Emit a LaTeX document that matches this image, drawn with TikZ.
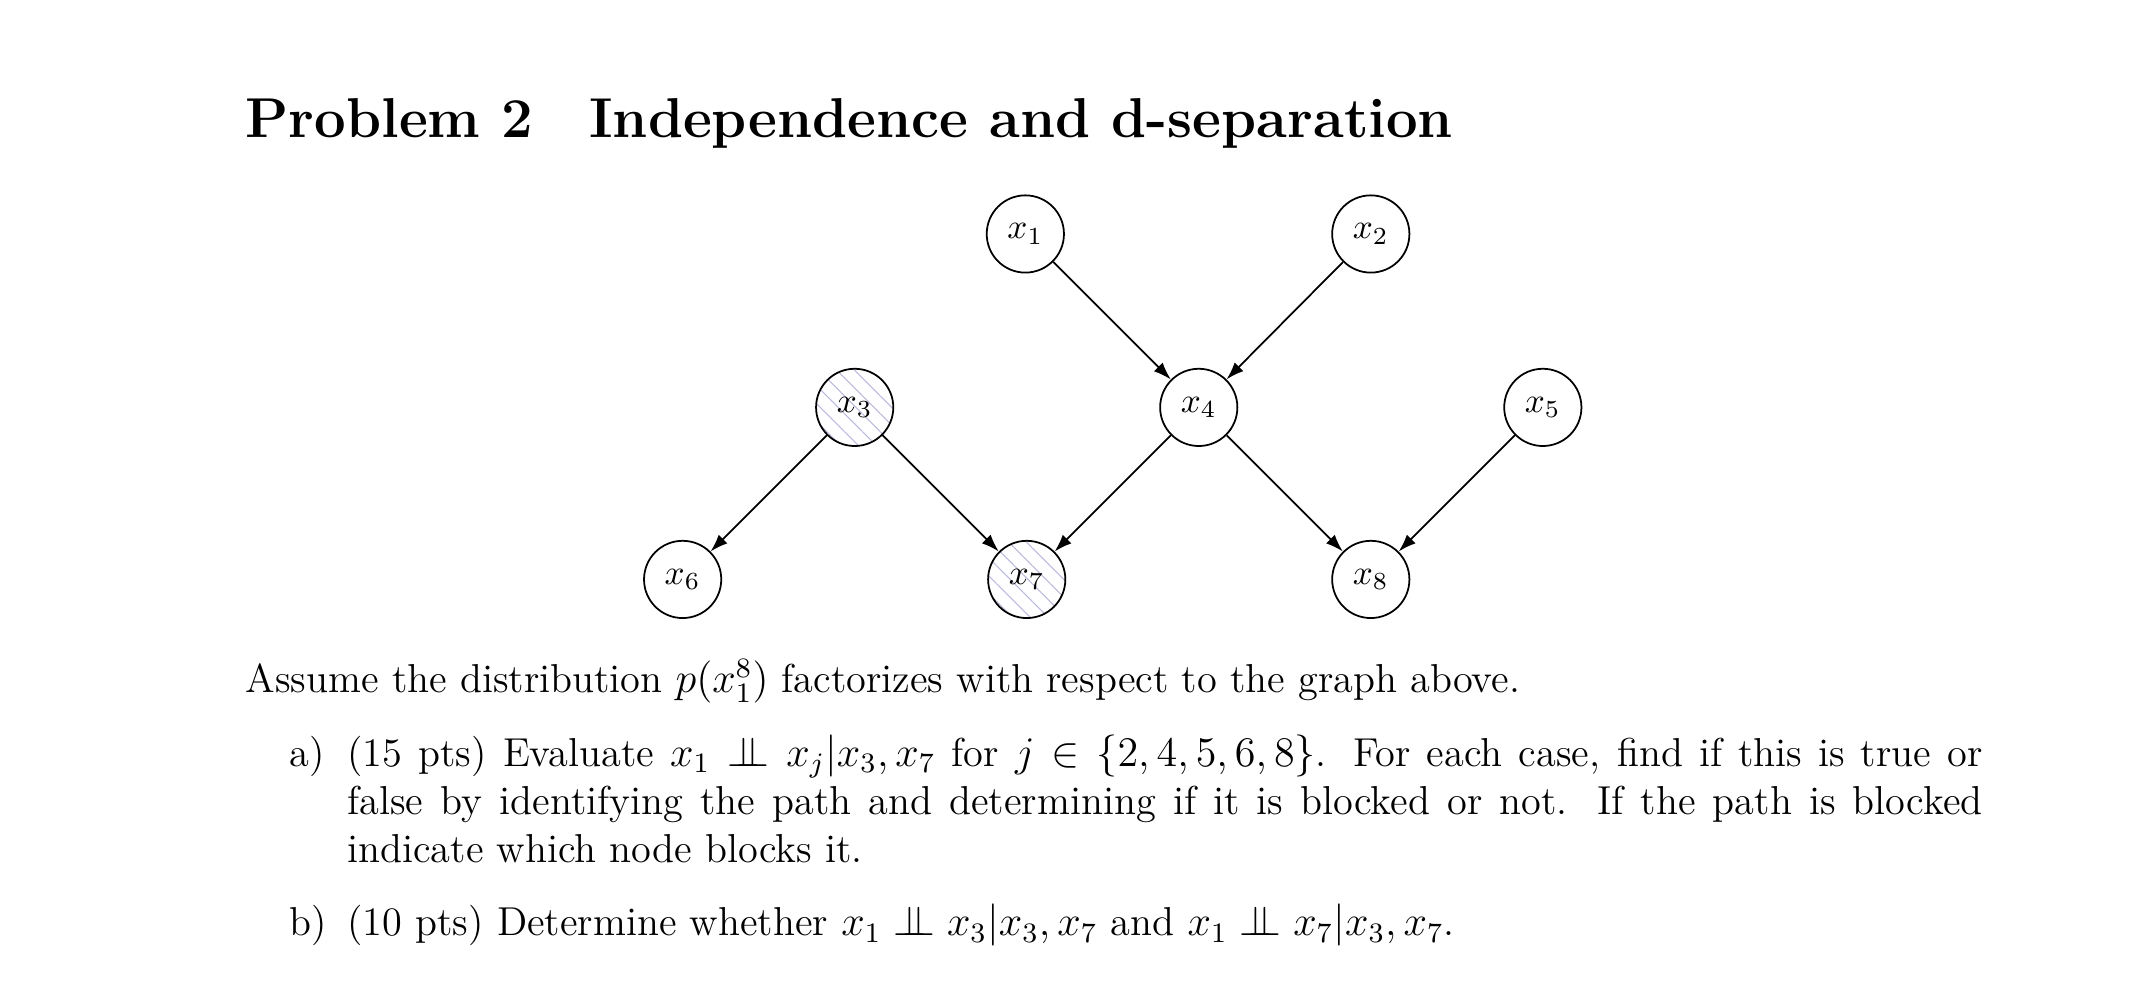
\documentclass[tikz,border=0pt]{standalone}
\usepackage{amsmath,amssymb}
\usetikzlibrary{patterns.meta,arrows.meta}
\newcommand{\myind}{\mathrel{\perp\mkern-10mu\perp}}
\begin{document}
\begin{tikzpicture}[x=0.392pt,y=-0.392pt,
  vnode/.style={circle,draw,line width=0.5pt,minimum size=22pt,inner sep=0pt},
  obs/.style={vnode,pattern={Lines[angle=-45,distance=3.6pt,line width=0.3pt]},pattern color=blue!35!gray!40},
  arr/.style={-{Latex[length=5pt,width=3.5pt]},line width=0.5pt},
  txt/.style={anchor=base west,inner sep=0pt,font=\fontsize{11.5}{14}\selectfont}]
\useasboundingbox (0,0) rectangle (1560,726);
\node[anchor=base west,inner sep=0pt,font=\fontsize{16}{19}\selectfont\bfseries] (title) at (178,100) {Problem 2\hspace{1.0em}Independence and d-separation};
\node[vnode] (x1) at (745,170) {$x_1$};
\node[vnode] (x2) at (996,170) {$x_2$};
\node[obs] (x3) at (621,296) {$x_3$};
\node[vnode] (x4) at (871,296) {$x_4$};
\node[vnode] (x5) at (1121,296) {$x_5$};
\node[vnode] (x6) at (496,421) {$x_6$};
\node[obs] (x7) at (746,421) {$x_7$};
\node[vnode] (x8) at (996,421) {$x_8$};
\draw[arr] (x1) -- (x4);
\draw[arr] (x2) -- (x4);
\draw[arr] (x3) -- (x6);
\draw[arr] (x3) -- (x7);
\draw[arr] (x4) -- (x7);
\draw[arr] (x4) -- (x8);
\draw[arr] (x5) -- (x8);
\node[txt] (p0) at (178,503) {Assume the distribution $p(x_1^8)$ factorizes with respect to the graph above.};
\node[txt] (la) at (210,557) {a)};
\node[txt] (a1) at (252,557) {\hbox to 465.7pt{(15 pts) Evaluate $x_1 \myind x_j|x_3,x_7$ for $j\in\{2,4,5,6,8\}$. For each case, find if this is true or}};
\node[txt] (a2) at (252,592) {\hbox to 465.7pt{false by identifying the path and determining if it is blocked or not. If the path is blocked}};
\node[txt] (a3) at (252,627) {indicate which node blocks it.};
\node[txt] (lb) at (210,680) {b)};
\node[txt] (b1) at (252,680) {(10 pts) Determine whether $x_1 \myind x_3|x_3,x_7$ and $x_1 \myind x_7|x_3,x_7$.};
\end{tikzpicture}
\end{document}
